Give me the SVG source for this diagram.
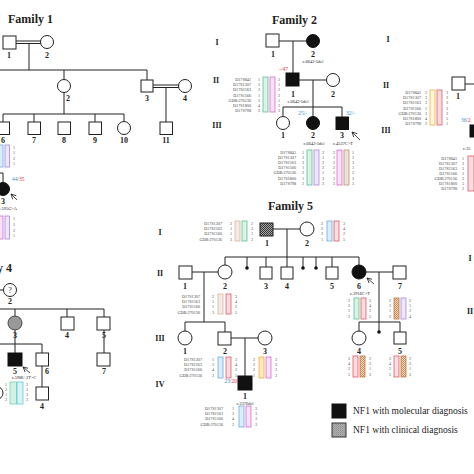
<svg xmlns="http://www.w3.org/2000/svg" width="474" height="474" viewBox="0 0 474 474">
<defs>
<style>
.l{stroke:#222;stroke-width:1;fill:none}
.o{fill:#fff;stroke:#222;stroke-width:1}
.b{fill:#111;stroke:#111;stroke-width:1}
text{font-family:"Liberation Serif","Times New Roman",serif;fill:#222}
.title{font-size:12px;font-weight:bold}
.gen{font-size:8px;font-weight:bold;text-anchor:middle}
.id{font-size:8px;font-weight:bold;text-anchor:middle}
.m{font-size:4.2px;text-anchor:end;fill:#444}
.n{font-size:4.2px;text-anchor:middle;fill:#555}
.mut{font-size:4.4px;text-anchor:middle}
.hap{font-size:5.5px}
.blue{fill:#3a8fd0}
.red{fill:#d8353f}
.leg{font-size:9.5px}
.gr{stroke:#5cc08f;fill:#daf3e6;stroke-width:.8}
.pk{stroke:#dc6ad6;fill:#f8e2f6;stroke-width:.8}
.lv{stroke:#a688e0;fill:#eee6fb;stroke-width:.8}
.rd{stroke:#e05a6a;fill:#fbdde0;stroke-width:.8}
.bl{stroke:#6aaee0;fill:#dcedf9;stroke-width:.8}
.tn{stroke:#b89878;fill:#ece2d6;stroke-width:.8}
.yl{stroke:#f0b040;fill:url(#dots);stroke-width:.8}
.td{stroke:#d4b8a0;fill:url(#tandots);stroke-width:.8}
.tc{stroke:#c07840;fill:url(#tanchk);stroke-width:.8}
.mn{stroke:#7ccfa8;fill:#d4f2e4;stroke-width:.8}
.cy{stroke:#66c8d8;fill:#d8f4f8;stroke-width:.8}
.arr{stroke:#222;stroke-width:.8;fill:none}
</style>
<pattern id="chk" width="2" height="2" patternUnits="userSpaceOnUse"><rect width="2" height="2" fill="#aaa"/><rect width="1" height="1" fill="#333"/><rect x="1" y="1" width="1" height="1" fill="#333"/></pattern>
<pattern id="gry" width="2" height="2" patternUnits="userSpaceOnUse"><rect width="2" height="2" fill="#b0b0b0"/><rect width="1" height="1" fill="#909090"/><rect x="1" y="1" width="1" height="1" fill="#9a9a9a"/></pattern>
<pattern id="tanchk" width="2" height="2" patternUnits="userSpaceOnUse"><rect width="2" height="2" fill="#f6e2cc"/><rect width="1" height="1" fill="#d08850"/><rect x="1" y="1" width="1" height="1" fill="#d08850"/></pattern>
<pattern id="dots" width="1.5" height="1.5" patternUnits="userSpaceOnUse"><rect width="1.5" height="1.5" fill="#fff8e4"/><circle cx=".75" cy=".75" r=".4" fill="#f0b040"/></pattern>
<pattern id="tandots" width="1.5" height="1.5" patternUnits="userSpaceOnUse"><rect width="1.5" height="1.5" fill="#faf3ec"/><circle cx=".75" cy=".75" r=".35" fill="#d4b8a0"/></pattern>
<marker id="ah" markerWidth="6" markerHeight="6" refX="5" refY="3" orient="auto" markerUnits="userSpaceOnUse"><path d="M0,0.5 L5,3 L0,5.5" fill="none" stroke="#222" stroke-width=".8"/></marker>
</defs>
<rect width="474" height="474" fill="#fff"/>

<!-- titles and generation labels -->
<g id="labels">
<text class="title" x="8" y="23">Family 1</text>
<text class="title" x="272" y="24">Family 2</text>
<text class="title" x="268" y="210">Family 5</text>
<text class="title" x="12" y="272" text-anchor="end">Family 4</text>
<text class="gen" x="217" y="45">I</text>
<text class="gen" x="216" y="83">II</text>
<text class="gen" x="217" y="128">III</text>
<text class="gen" x="388" y="42">I</text>
<text class="gen" x="386" y="88">II</text>
<text class="gen" x="386" y="133">III</text>
<text class="gen" x="160" y="235">I</text>
<text class="gen" x="160" y="276">II</text>
<text class="gen" x="160" y="341">III</text>
<text class="gen" x="160" y="387">IV</text>
<text class="gen" x="470" y="261">I</text>
<text class="gen" x="470" y="314">II</text>
</g>

<!-- connectors -->
<g id="connectors" class="l">
<!-- Family 1 -->
<line x1="16" y1="41" x2="41" y2="41"/><line x1="16" y1="43.5" x2="41" y2="43.5"/>
<line x1="29" y1="43.5" x2="29" y2="70"/>
<line x1="-1" y1="70" x2="147" y2="70"/>
<line x1="64" y1="70" x2="64" y2="79.5"/>
<line x1="147" y1="70" x2="147" y2="80"/>
<line x1="153" y1="85" x2="179" y2="85"/><line x1="153" y1="87.5" x2="179" y2="87.5"/>
<line x1="166" y1="87.5" x2="166" y2="122"/>
<line x1="64" y1="92.5" x2="64" y2="114"/>
<line x1="3" y1="114" x2="124" y2="114"/>
<line x1="3" y1="114" x2="3" y2="122"/><line x1="34" y1="114" x2="34" y2="122"/>
<line x1="95" y1="114" x2="95" y2="122"/><line x1="124" y1="114" x2="124" y2="121.5"/>
<line x1="-1" y1="173" x2="3" y2="173"/><line x1="3" y1="173" x2="3" y2="182.5"/>
<!-- Family 2 -->
<line x1="279" y1="41" x2="306.5" y2="41"/>
<line x1="293" y1="41" x2="293" y2="73"/>
<line x1="299" y1="80" x2="326.5" y2="80"/>
<line x1="313" y1="80" x2="313" y2="116.5"/>
<line x1="283" y1="107" x2="342" y2="107"/>
<line x1="283" y1="107" x2="283" y2="116.5"/>
<line x1="342" y1="107" x2="342" y2="117"/>
<!-- Family 3 (partial) -->
<line x1="465" y1="84" x2="475" y2="84"/>
<!-- Family 5 -->
<line x1="273" y1="229" x2="300" y2="229"/>
<line x1="287" y1="229" x2="287" y2="267"/>
<line x1="225" y1="257" x2="359" y2="257"/>
<line x1="225" y1="257" x2="225" y2="265"/>
<line x1="247" y1="257" x2="247" y2="268"/>
<line x1="266" y1="257" x2="266" y2="267"/>
<line x1="303" y1="257" x2="303" y2="268"/>
<line x1="316" y1="257" x2="316" y2="268"/>
<line x1="332" y1="257" x2="332" y2="267"/>
<line x1="359" y1="257" x2="359" y2="265"/>
<line x1="192" y1="272" x2="218" y2="272"/>
<line x1="204" y1="272" x2="204" y2="322"/>
<line x1="185" y1="322" x2="225" y2="322"/>
<line x1="185" y1="322" x2="185" y2="331"/>
<line x1="225" y1="322" x2="225" y2="332"/>
<line x1="231" y1="338" x2="258" y2="338"/>
<line x1="245" y1="338" x2="245" y2="376"/>
<line x1="366" y1="272" x2="393" y2="272"/>
<line x1="379" y1="272" x2="379" y2="322"/>
<line x1="359" y1="322" x2="400" y2="322"/>
<line x1="359" y1="322" x2="359" y2="331"/>
<line x1="379" y1="322" x2="379" y2="332"/>
<line x1="400" y1="322" x2="400" y2="332"/>
<!-- Family 4 -->
<line x1="-2" y1="290" x2="3.5" y2="290"/>
<line x1="-1" y1="309" x2="104" y2="309"/>
<line x1="15" y1="309" x2="15" y2="316"/>
<line x1="67" y1="309" x2="67" y2="317"/>
<line x1="104" y1="309" x2="104" y2="317"/>
<line x1="104" y1="330" x2="104" y2="353"/>
<line x1="15" y1="330" x2="15" y2="353"/>
<line x1="-1" y1="344" x2="42" y2="344"/>
<line x1="42" y1="344" x2="42" y2="353"/>
<line x1="42" y1="366" x2="42" y2="387"/>
</g>

<!-- arrows -->
<g id="probands">
<line class="arr" x1="17" y1="200" x2="11" y2="194" marker-end="url(#ah)"/>
<line class="arr" x1="360" y1="140" x2="352" y2="132" marker-end="url(#ah)"/>
<line class="arr" x1="374" y1="284" x2="367" y2="278" marker-end="url(#ah)"/>
<line class="arr" x1="30" y1="373" x2="23" y2="367" marker-end="url(#ah)"/>
</g>

<!-- ===== Family 1 ===== -->
<g id="f1-I-1"><rect class="o" x="3" y="36" width="13" height="13"/><text class="id" x="9" y="58">1</text></g>
<g id="f1-I-2"><circle class="o" cx="47" cy="42" r="6.5"/><text class="id" x="47" y="58">2</text></g>
<g id="f1-II-2"><circle class="o" cx="64" cy="86" r="6.5"/><text class="id" x="68" y="101">2</text></g>
<g id="f1-II-3"><rect class="o" x="141" y="80" width="12" height="12"/><text class="id" x="147" y="101">3</text></g>
<g id="f1-II-4"><circle class="o" cx="185" cy="86" r="6.5"/><text class="id" x="185" y="101">4</text></g>
<g id="f1-III-6"><rect class="o" x="-3" y="122" width="12.5" height="12.5"/><text class="id" x="3" y="143">6</text></g>
<g id="f1-III-7"><rect class="o" x="28" y="122" width="12.5" height="12.5"/><text class="id" x="34" y="143">7</text></g>
<g id="f1-III-8"><rect class="o" x="58" y="122" width="12.5" height="12.5"/><text class="id" x="64" y="143">8</text></g>
<g id="f1-III-9"><rect class="o" x="89" y="122" width="12.5" height="12.5"/><text class="id" x="95" y="143">9</text></g>
<g id="f1-III-10"><circle class="o" cx="124" cy="128" r="6.5"/><text class="id" x="124" y="143">10</text></g>
<g id="f1-III-11"><rect class="o" x="160" y="122" width="12.5" height="12.5"/><text class="id" x="166" y="143">11</text></g>
<g id="f1-hap-top">
<rect class="bl" x="-3" y="145" width="6" height="22"/><rect class="lv" x="5" y="145" width="4.5" height="22"/>
<text class="n" y="149"><tspan x="14">1</tspan><tspan x="14" dy="5.3">1</tspan><tspan x="14" dy="5.3">2</tspan><tspan x="14" dy="5.3">1</tspan></text>
</g>
<g id="f1-3"><circle class="b" cx="3" cy="189" r="6.5"/><text class="id" x="3" y="204">3</text>
<text class="hap" x="12" y="181"><tspan class="blue">44</tspan><tspan class="red">/35</tspan></text>
<text class="mut" x="17" y="210" text-anchor="end" style="text-anchor:end">c.595G&gt;A</text>
<rect class="pk" x="-3" y="216" width="6" height="23"/><rect class="lv" x="5" y="216" width="4.5" height="23"/>
<text class="n" y="220"><tspan x="14">1</tspan><tspan x="14" dy="5.8">1</tspan><tspan x="14" dy="5.8">2</tspan><tspan x="14" dy="5.8">1</tspan></text>
</g>

<!-- ===== Family 2 ===== -->
<g id="f2-I-1"><rect class="o" x="266" y="34" width="13" height="13"/><text class="id" x="273" y="57">1</text></g>
<g id="f2-I-2"><circle class="b" cx="313" cy="41" r="6.5"/><text class="id" x="313" y="57">2</text><text class="mut" x="313" y="62.5">c.6642-5del</text></g>
<g id="f2-II-1"><rect class="b" x="286" y="73" width="13" height="13"/><text class="id" x="293" y="97">1</text><text class="mut" x="298" y="103">c.6642-5del</text>
<text class="hap red" x="288" y="71" text-anchor="end" style="text-anchor:end">-/47</text>
<text class="m" y="81"><tspan x="251">D17S841</tspan><tspan x="251" dy="5.2">D17S1307</tspan><tspan x="251" dy="5.2">D17S2163</tspan><tspan x="251" dy="5.2">D17S1166</tspan><tspan x="251" dy="5.2">GDB:270136</tspan><tspan x="251" dy="5.2">D17S1800</tspan><tspan x="251" dy="5.2">D17S798</tspan></text>
<text class="n" y="81"><tspan x="259">1</tspan><tspan x="259" dy="5.2">2</tspan><tspan x="259" dy="5.2">3</tspan><tspan x="259" dy="5.2">1</tspan><tspan x="259" dy="5.2">2</tspan><tspan x="259" dy="5.2">4</tspan><tspan x="259" dy="5.2">2</tspan></text>
<rect class="gr" x="263" y="77" width="5" height="35"/><rect class="pk" x="270" y="77" width="5" height="35"/>
<text class="n" y="81"><tspan x="279">2</tspan><tspan x="279" dy="5.2">1</tspan><tspan x="279" dy="5.2">2</tspan><tspan x="279" dy="5.2">2</tspan><tspan x="279" dy="5.2">1</tspan><tspan x="279" dy="5.2">2</tspan><tspan x="279" dy="5.2">3</tspan></text>
</g>
<g id="f2-II-2"><circle class="o" cx="333" cy="80" r="6.5"/><text class="id" x="333" y="97">2</text></g>
<g id="f2-III-1"><circle class="o" cx="283" cy="123" r="6.5"/><text class="id" x="283" y="138">1</text></g>
<g id="f2-III-2"><circle class="b" cx="313" cy="123" r="6.5"/><text class="id" x="313" y="138">2</text><text class="mut" x="314" y="145">c.6642-5del</text>
<text class="hap blue" x="307" y="115" text-anchor="end" style="text-anchor:end">25/-</text>
<text class="m" y="154"><tspan x="296">D17S841</tspan><tspan x="296" dy="5.1">D17S1307</tspan><tspan x="296" dy="5.1">D17S2163</tspan><tspan x="296" dy="5.1">D17S1166</tspan><tspan x="296" dy="5.1">GDB:270136</tspan><tspan x="296" dy="5.1">D17S1800</tspan><tspan x="296" dy="5.1">D17S798</tspan></text>
<text class="n" y="154"><tspan x="303">1</tspan><tspan x="303" dy="5.1">2</tspan><tspan x="303" dy="5.1">3</tspan><tspan x="303" dy="5.1">1</tspan><tspan x="303" dy="5.1">2</tspan><tspan x="303" dy="5.1">1</tspan><tspan x="303" dy="5.1">2</tspan></text>
<rect class="gr" x="307" y="150" width="5" height="35"/><rect class="lv" x="314" y="150" width="5" height="35"/>
<text class="n" y="154"><tspan x="323">2</tspan><tspan x="323" dy="5.1">1</tspan><tspan x="323" dy="5.1">2</tspan><tspan x="323" dy="5.1">2</tspan><tspan x="323" dy="5.1">1</tspan><tspan x="323" dy="5.1">3</tspan><tspan x="323" dy="5.1">3</tspan></text>
</g>
<g id="f2-III-3"><rect class="b" x="336" y="117" width="12.5" height="12.5"/><text class="id" x="342" y="138">3</text><text class="mut" x="343" y="145">c.4537C&gt;T</text>
<text class="hap blue" x="346" y="115">32/-</text>
<text class="n" y="154"><tspan x="334">2</tspan><tspan x="334" dy="5.1">1</tspan><tspan x="334" dy="5.1">2</tspan><tspan x="334" dy="5.1">2</tspan><tspan x="334" dy="5.1">1</tspan><tspan x="334" dy="5.1">2</tspan><tspan x="334" dy="5.1">3</tspan></text>
<rect class="pk" x="337" y="150" width="5" height="35"/><rect class="tn" x="344" y="150" width="5" height="35"/>
<text class="n" y="154"><tspan x="353">1</tspan><tspan x="353" dy="5.1">2</tspan><tspan x="353" dy="5.1">3</tspan><tspan x="353" dy="5.1">1</tspan><tspan x="353" dy="5.1">2</tspan><tspan x="353" dy="5.1">3</tspan><tspan x="353" dy="5.1">3</tspan></text>
</g>

<!-- ===== Family 3 (partial, right edge) ===== -->
<g id="f3-II-1"><rect class="o" x="452" y="77" width="13" height="13"/><text class="id" x="458" y="99">1</text>
<text class="m" y="94"><tspan x="421">D17S841</tspan><tspan x="421" dy="5.2">D17S1307</tspan><tspan x="421" dy="5.2">D17S2163</tspan><tspan x="421" dy="5.2">D17S1166</tspan><tspan x="421" dy="5.2">GDB:270136</tspan><tspan x="421" dy="5.2">D17S1800</tspan><tspan x="421" dy="5.2">D17S798</tspan></text>
<text class="n" y="94"><tspan x="426">2</tspan><tspan x="426" dy="5.2">3</tspan><tspan x="426" dy="5.2">3</tspan><tspan x="426" dy="5.2">1</tspan><tspan x="426" dy="5.2">3</tspan><tspan x="426" dy="5.2">4</tspan><tspan x="426" dy="5.2">2</tspan></text>
<rect class="yl" x="430" y="90" width="5" height="35" style="fill:#fff6dc"/><rect class="rd" x="437" y="90" width="5" height="35"/>
<text class="n" y="94"><tspan x="447">3</tspan><tspan x="447" dy="5.2">3</tspan><tspan x="447" dy="5.2">3</tspan><tspan x="447" dy="5.2">3</tspan><tspan x="447" dy="5.2">3</tspan><tspan x="447" dy="5.2">5</tspan><tspan x="447" dy="5.2">1</tspan></text>
</g>
<g id="f3-III"><rect class="b" x="470" y="125" width="12" height="12"/>
<text class="hap" x="461" y="122"><tspan class="blue">36</tspan><tspan class="red">/2</tspan></text>
<text class="mut" x="463" y="150" style="text-anchor:start">c.35</text>
<text class="m" y="160"><tspan x="457">D17S841</tspan><tspan x="457" dy="5">D17S1307</tspan><tspan x="457" dy="5">D17S2163</tspan><tspan x="457" dy="5">D17S1166</tspan><tspan x="457" dy="5">GDB:270136</tspan><tspan x="457" dy="5">D17S1800</tspan><tspan x="457" dy="5">D17S798</tspan></text>
<text class="n" y="160"><tspan x="463">1</tspan><tspan x="463" dy="5">3</tspan><tspan x="463" dy="5">3</tspan><tspan x="463" dy="5">3</tspan><tspan x="463" dy="5">3</tspan><tspan x="463" dy="5">5</tspan><tspan x="463" dy="5">2</tspan></text>
<rect class="rd" x="468" y="156" width="6" height="35"/>
</g>

<!-- ===== Family 5 ===== -->
<g id="f5-I-1"><rect x="260" y="223" width="13" height="13" fill="url(#chk)" stroke="#222"/><text class="id" x="267" y="246">1</text>
<text class="m" y="225"><tspan x="222">D17S1307</tspan><tspan x="222" dy="5.2">D17S2163</tspan><tspan x="222" dy="5.2">D17S1166</tspan><tspan x="222" dy="5.2">GDB:270136</tspan></text>
<text class="n" y="225"><tspan x="231">2</tspan><tspan x="231" dy="5.2">1</tspan><tspan x="231" dy="5.2">1</tspan><tspan x="231" dy="5.2">3</tspan></text>
<rect class="td" x="235" y="221" width="5" height="20"/><rect class="gr" x="242" y="221" width="5" height="20"/>
<text class="n" y="225"><tspan x="252">2</tspan><tspan x="252" dy="5.2">3</tspan><tspan x="252" dy="5.2">1</tspan><tspan x="252" dy="5.2">2</tspan></text>
</g>
<g id="f5-I-2"><circle class="o" cx="307" cy="229" r="7"/><text class="id" x="307" y="246">2</text>
<text class="n" y="225"><tspan x="322">2</tspan><tspan x="322" dy="5.2">2</tspan><tspan x="322" dy="5.2">3</tspan><tspan x="322" dy="5.2">1</tspan></text>
<rect class="bl" x="327" y="221" width="5" height="20"/><rect class="rd" x="334" y="221" width="5" height="20"/>
<text class="n" y="225"><tspan x="344">3</tspan><tspan x="344" dy="5.2">4</tspan><tspan x="344" dy="5.2">2</tspan><tspan x="344" dy="5.2">5</tspan></text>
</g>
<g id="f5-II-1"><rect class="o" x="179" y="266" width="13" height="13"/><text class="id" x="185" y="289">1</text></g>
<g id="f5-II-2"><circle class="o" cx="225" cy="272" r="7"/><text class="id" x="225" y="289">2</text>
<text class="m" y="298"><tspan x="200">D17S1307</tspan><tspan x="200" dy="5.2">D17S2163</tspan><tspan x="200" dy="5.2">D17S1166</tspan><tspan x="200" dy="5.2">GDB:270136</tspan></text>
<text class="n" y="298"><tspan x="213">2</tspan><tspan x="213" dy="5.2">1</tspan><tspan x="213" dy="5.2">1</tspan><tspan x="213" dy="5.2">3</tspan></text>
<rect class="td" x="218" y="294" width="5" height="20"/><rect class="rd" x="226" y="294" width="5" height="20"/>
<text class="n" y="298"><tspan x="236">3</tspan><tspan x="236" dy="5.2">4</tspan><tspan x="236" dy="5.2">2</tspan><tspan x="236" dy="5.2">5</tspan></text>
</g>
<g id="f5-misc"><circle cx="247" cy="268" r="1.8" fill="#111"/><circle cx="303" cy="268" r="1.8" fill="#111"/><circle cx="316" cy="268" r="1.8" fill="#111"/><circle cx="379" cy="332" r="1.8" fill="#111"/></g>
<g id="f5-II-3"><rect class="o" x="260" y="267" width="12" height="12"/><text class="id" x="266" y="289">3</text></g>
<g id="f5-II-4"><rect class="o" x="281" y="267" width="12" height="12"/><text class="id" x="287" y="289">4</text></g>
<g id="f5-II-5"><rect class="o" x="326" y="267" width="12" height="12"/><text class="id" x="332" y="289">5</text></g>
<g id="f5-II-6"><circle class="b" cx="359" cy="272" r="7"/><text class="id" x="359" y="289">6</text><text class="mut" x="360" y="295">c.3916C&gt;T</text>
<text class="n" y="302"><tspan x="349">2</tspan><tspan x="349" dy="5.2">3</tspan><tspan x="349" dy="5.2">1</tspan><tspan x="349" dy="5.2">2</tspan></text>
<rect class="gr" x="354" y="298" width="5" height="21"/><rect class="rd" x="361" y="298" width="5" height="21"/>
<text class="n" y="302"><tspan x="370">3</tspan><tspan x="370" dy="5.2">4</tspan><tspan x="370" dy="5.2">2</tspan><tspan x="370" dy="5.2">5</tspan></text>
</g>
<g id="f5-II-7"><rect class="o" x="393" y="266" width="13" height="13"/><text class="id" x="400" y="289">7</text>
<text class="n" y="302"><tspan x="390">2</tspan><tspan x="390" dy="5.2">3</tspan><tspan x="390" dy="5.2">1</tspan><tspan x="390" dy="5.2">3</tspan></text>
<rect class="tc" x="394" y="298" width="5" height="21"/><rect class="lv" x="401" y="298" width="5" height="21"/>
<text class="n" y="302"><tspan x="410">2</tspan><tspan x="410" dy="5.2">1</tspan><tspan x="410" dy="5.2">2</tspan><tspan x="410" dy="5.2">4</tspan></text>
</g>
<g id="f5-III-1"><circle class="o" cx="185" cy="338" r="7"/><text class="id" x="185" y="354">1</text></g>
<g id="f5-III-2"><rect class="o" x="218" y="332" width="13" height="13"/><text class="id" x="225" y="354">2</text>
<text class="m" y="361"><tspan x="202">D17S1307</tspan><tspan x="202" dy="5.2">D17S2163</tspan><tspan x="202" dy="5.2">D17S1166</tspan><tspan x="202" dy="5.2">GDB:270136</tspan></text>
<text class="n" y="361"><tspan x="213">1</tspan><tspan x="213" dy="5.2">3</tspan><tspan x="213" dy="5.2">4</tspan><tspan x="213" dy="5.2">2</tspan></text>
<rect class="bl" x="218" y="357" width="5" height="21"/><rect class="rd" x="226" y="357" width="5" height="21"/>
<text class="n" y="361"><tspan x="236">3</tspan><tspan x="236" dy="5.2">4</tspan><tspan x="236" dy="5.2">2</tspan><tspan x="236" dy="5.2">5</tspan></text>
</g>
<g id="f5-III-3"><circle class="o" cx="265" cy="338" r="7"/><text class="id" x="265" y="354">3</text>
<text class="n" y="361"><tspan x="254">2</tspan><tspan x="254" dy="5.2">2</tspan><tspan x="254" dy="5.2">2</tspan><tspan x="254" dy="5.2">1</tspan></text>
<rect class="yl" x="259" y="357" width="5" height="21"/><rect class="pk" x="266" y="357" width="5" height="21"/>
<text class="n" y="361"><tspan x="276">3</tspan><tspan x="276" dy="5.2">3</tspan><tspan x="276" dy="5.2">3</tspan><tspan x="276" dy="5.2">3</tspan></text>
</g>
<g id="f5-III-4"><circle class="o" cx="359" cy="338" r="7"/><text class="id" x="359" y="354">4</text>
<text class="n" y="360"><tspan x="349">3</tspan><tspan x="349" dy="5.2">4</tspan><tspan x="349" dy="5.2">2</tspan><tspan x="349" dy="5.2">5</tspan></text>
<rect class="rd" x="353" y="356" width="5" height="21"/><rect class="tc" x="360" y="356" width="5" height="21"/>
<text class="n" y="360"><tspan x="370">2</tspan><tspan x="370" dy="5.2">3</tspan><tspan x="370" dy="5.2">1</tspan><tspan x="370" dy="5.2">3</tspan></text>
</g>
<g id="f5-III-5"><rect class="o" x="394" y="332" width="12" height="12"/><text class="id" x="400" y="354">5</text>
<text class="n" y="360"><tspan x="390">3</tspan><tspan x="390" dy="5.2">4</tspan><tspan x="390" dy="5.2">2</tspan><tspan x="390" dy="5.2">5</tspan></text>
<rect class="rd" x="394" y="356" width="5" height="21"/><rect class="tc" x="401" y="356" width="5" height="21"/>
<text class="n" y="360"><tspan x="410">2</tspan><tspan x="410" dy="5.2">3</tspan><tspan x="410" dy="5.2">1</tspan><tspan x="410" dy="5.2">3</tspan></text>
</g>
<g id="f5-IV-1"><rect class="b" x="238" y="376" width="14" height="14"/><text class="id" x="245" y="399">1</text><text class="mut" x="245" y="405">c.2376del</text>
<text class="hap" x="237" y="383" style="text-anchor:end"><tspan class="blue">23</tspan><tspan class="red">/20</tspan></text>
<text class="m" y="410"><tspan x="223">D17S1307</tspan><tspan x="223" dy="5.2">D17S2163</tspan><tspan x="223" dy="5.2">D17S1166</tspan><tspan x="223" dy="5.2">GDB:270136</tspan></text>
<text class="n" y="410"><tspan x="233">1</tspan><tspan x="233" dy="5.2">3</tspan><tspan x="233" dy="5.2">4</tspan><tspan x="233" dy="5.2">2</tspan></text>
<rect class="bl" x="239" y="406" width="5" height="21"/><rect class="pk" x="246" y="406" width="5" height="21"/>
<text class="n" y="410"><tspan x="256">3</tspan><tspan x="256" dy="5.2">3</tspan><tspan x="256" dy="5.2">3</tspan><tspan x="256" dy="5.2">3</tspan></text>
</g>

<!-- ===== Family 4 ===== -->
<g id="f4-II-2"><circle class="o" cx="10" cy="290" r="6.5"/><text x="10" y="293" style="font-size:8px;text-anchor:middle">?</text><text class="id" x="10" y="304">2</text></g>
<g id="f4-III-3"><circle cx="15" cy="323" r="7" fill="#999" stroke="#444"/><text class="id" x="15" y="338">3</text></g>
<g id="f4-III-4"><rect class="o" x="61" y="317" width="13" height="13"/><text class="id" x="67" y="338">4</text></g>
<g id="f4-III-5b"><rect class="o" x="97" y="317" width="13" height="13"/><text class="id" x="104" y="338">5</text></g>
<g id="f4-IV-7"><rect class="o" x="97" y="353" width="13" height="13"/><text class="id" x="104" y="374">7</text></g>
<g id="f4-IV-5"><rect class="b" x="8" y="353" width="14" height="13"/><text class="id" x="15" y="374">5</text>
<text class="mut" x="24" y="379">c.5986+2T&gt;C</text>
<text class="n" y="386"><tspan x="6">1</tspan><tspan x="6" dy="5">3</tspan><tspan x="6" dy="5">1</tspan><tspan x="6" dy="5">2</tspan></text>
<rect class="mn" x="10" y="382" width="6.5" height="22"/><rect class="cy" x="17" y="382" width="6" height="22"/>
<text class="n" y="386"><tspan x="27">2</tspan><tspan x="27" dy="5">3</tspan><tspan x="27" dy="5">3</tspan><tspan x="27" dy="5">3</tspan></text>
</g>
<g id="f4-IV-6"><rect class="o" x="36" y="353" width="12.5" height="13"/><text class="id" x="47" y="374">6</text></g>
<g id="f4-V-4"><rect class="o" x="36" y="387" width="12.5" height="13"/><text class="id" x="42" y="409">4</text></g>
<g id="f4-edge"><circle class="o" cx="-3.5" cy="393" r="6.5"/></g>

<!-- ===== Legend ===== -->
<g id="legend">
<rect x="332" y="404" width="14" height="14" fill="#111" stroke="#111"/>
<text class="leg" x="353" y="414">NF1 with molecular diagnosis</text>
<rect x="332" y="423" width="14" height="14" fill="url(#gry)" stroke="#333"/>
<text class="leg" x="353" y="433">NF1 with clinical diagnosis</text>
</g>
</svg>
